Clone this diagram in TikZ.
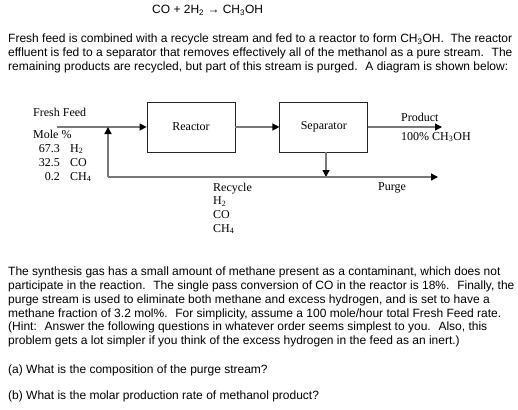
\documentclass[tikz,border=0pt]{standalone}
\usepackage{fontspec}
\usetikzlibrary{arrows.meta,positioning}
\setmainfont{Liberation Sans}
\newfontfamily\diagfont{Liberation Serif}
\definecolor{pipe}{RGB}{120,120,120}

\begin{document}
\begin{tikzpicture}[x=1pt,y=-1pt,>={Triangle[length=7pt,width=7pt,color=black]},
 txt/.style={anchor=base west,inner sep=0pt,font=\fontsize{12}{14}\selectfont},
 lbl/.style={anchor=base west,inner sep=0pt,font=\diagfont\fontsize{12}{14}\selectfont},
 box/.style={draw=black!85,line width=0.8pt,minimum width=88pt,minimum height=50pt,inner sep=0pt,font=\diagfont\fontsize{12}{14}\selectfont},
 flow/.style={draw=pipe,line width=1.3pt}]
\useasboundingbox (0,0) rectangle (518,409);
% problem statement
\node[txt] (eq) at (152,13.5) {CO + 2H\textsubscript{2} → CH\textsubscript{3}OH};
\node[txt] (p1a) at (8,42.5) {Fresh feed is combined with a recycle stream and fed to a reactor to form CH\textsubscript{3}OH.~ The reactor};
\node[txt] (p1b) at (8,56.5) {effluent is fed to a separator that removes effectively all of the methanol as a pure stream.~ The};
\node[txt] (p1c) at (8,70.3) {remaining products are recycled, but part of this stream is purged.~ A diagram is shown below:};
% flowsheet
\node[box] (reactor) at (191,127) {Reactor};
\node[box,right=44pt of reactor] (separator) {Separator};
\coordinate (feed) at (57,127);
\coordinate (mix) at (108,127);
\coordinate (ret) at (108,177);
\coordinate (split) at (326,177);
\coordinate (purge) at (438,177);
\coordinate (prod) at (442,127);
\draw[flow,->] (feed) -- (reactor.west);
\draw[flow,->] (reactor) -- (separator);
\draw[flow,->] (separator) -- (prod);
\draw[flow,->] (separator.south -| split) -- (split);
\draw[flow,->] (ret) -- (purge);
\draw[flow,->] (ret) -- (mix);
% stream labels
\node[lbl] (ffeed) at (33,116.5) {Fresh Feed};
\node[lbl] (molepc) at (33,138.3) {Mole \%};
\node[lbl,anchor=base east] (xh2) at (60,152) {67.3};
\node[lbl] (fh2) at (70,152) {H\textsubscript{2}};
\node[lbl,anchor=base east] (xco) at (60,166) {32.5};
\node[lbl] (fco) at (70,166) {CO};
\node[lbl,anchor=base east] (xch4) at (60,180) {0.2};
\node[lbl] (fch4) at (70,180) {CH\textsubscript{4}};
\node[lbl] (rcy) at (213,191) {Recycle};
\node[lbl] (rh2) at (213,204.5) {H\textsubscript{2}};
\node[lbl] (rco) at (213,218.5) {CO};
\node[lbl] (rch4) at (213,232) {CH\textsubscript{4}};
\node[lbl] (prodlbl) at (401,121) {Product};
\node[lbl] (prodx) at (401,140) {100\% CH\textsubscript{3}OH};
\node[lbl] (purgelbl) at (378,190) {Purge};
% questions
\node[txt] (p2a) at (8,275.7) {The synthesis gas has a small amount of methane present as a contaminant, which does not};
\node[txt] (p2b) at (8,289.5) {participate in the reaction.~ The single pass conversion of CO in the reactor is 18\%.~ Finally, the};
\node[txt] (p2c) at (8,303.3) {purge stream is used to eliminate both methane and excess hydrogen, and is set to have a};
\node[txt] (p2d) at (8,317.1) {methane fraction of 3.2 mol\%.~ For simplicity, assume a 100 mole/hour total Fresh Feed rate.};
\node[txt] (p2e) at (8,330.9) {(Hint:~ Answer the following questions in whatever order seems simplest to you.~ Also, this};
\node[txt] (p2f) at (8,344.7) {problem gets a lot simpler if you think of the excess hydrogen in the feed as an inert.)};
\node[txt] (qa) at (8,373) {(a) What is the composition of the purge stream?};
\node[txt] (qb) at (8,399) {(b) What is the molar production rate of methanol product?};
\end{tikzpicture}
\end{document}
